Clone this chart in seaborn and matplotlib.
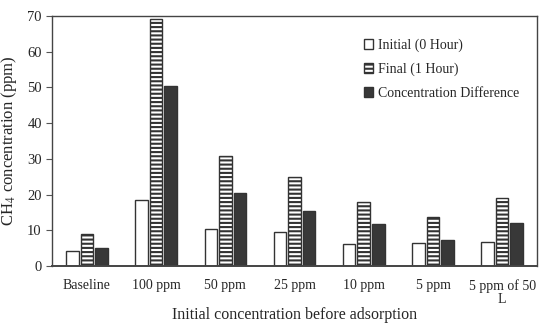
import pandas as pd
import matplotlib
matplotlib.use("Agg")
import matplotlib.pyplot as plt
import seaborn as sns

# data
categories = ["Baseline", "100 ppm", "50 ppm", "25 ppm", "10 ppm", "5 ppm", "5 ppm of 50\nL"]
initial = [4.2, 18.5, 10.3, 9.6, 6.1, 6.3, 6.8]
final = [9.0, 69.0, 30.7, 25.0, 17.8, 13.6, 18.9]
difference = [4.9, 50.5, 20.4, 15.5, 11.8, 7.4, 12.1]
series = ["Initial (0 Hour)", "Final (1 Hour)", "Concentration Difference"]

df = pd.DataFrame({
    "category": categories * 3,
    "value": initial + final + difference,
    "series": [series[0]] * 7 + [series[1]] * 7 + [series[2]] * 7,
})

sns.set_style("white")
plt.rcParams["font.family"] = ["Liberation Serif", "DejaVu Serif"]
plt.rcParams["mathtext.fontset"] = "stix"
plt.rcParams["hatch.linewidth"] = 1.5
plt.rcParams["hatch.color"] = "#333333"

fig = plt.figure(figsize=(5.5, 3.3), dpi=100)
ax = fig.add_axes([0.095, 0.194, 0.881, 0.758])

palette = {series[0]: "white", series[1]: "white", series[2]: "#383838"}
sns.barplot(data=df, x="category", y="value", hue="series", palette=palette,
            width=0.63, gap=0.14, edgecolor="#333333", linewidth=1.0,
            ax=ax, legend=True)

# hatch the "Final" bars
for bar in ax.containers[1]:
    bar.set_hatch("----")

ax.set_ylim(0, 70)
ax.set_yticks(range(0, 71, 10))
ax.set_xlim(-0.5, 6.5)
ax.set_ylabel(r"CH$_4$ concentration (ppm)", fontsize=12, labelpad=6)
ax.set_xlabel("Initial concentration before adsorption", fontsize=11.5, labelpad=1)
ax.tick_params(axis="y", labelsize=10.5, left=True, length=4, width=0.8, color="#555555")
ax.tick_params(axis="x", labelsize=10, bottom=False, pad=6)
for lbl in ax.get_xticklabels():
    lbl.set_linespacing(1.0)

for s in ax.spines.values():
    s.set_color("#444444")
    s.set_linewidth(1.0)
ax.spines["bottom"].set_linewidth(1.4)

handles, labels = ax.get_legend_handles_labels()
handles[1].set_hatch("----")
ax.legend(handles, labels, loc="upper left", bbox_to_anchor=(0.617, 0.958), frameon=False,
          fontsize=10, handlelength=0.7, handleheight=0.7, handletextpad=0.3,
          labelspacing=0.75)

fig.savefig("out.png", dpi=100)
